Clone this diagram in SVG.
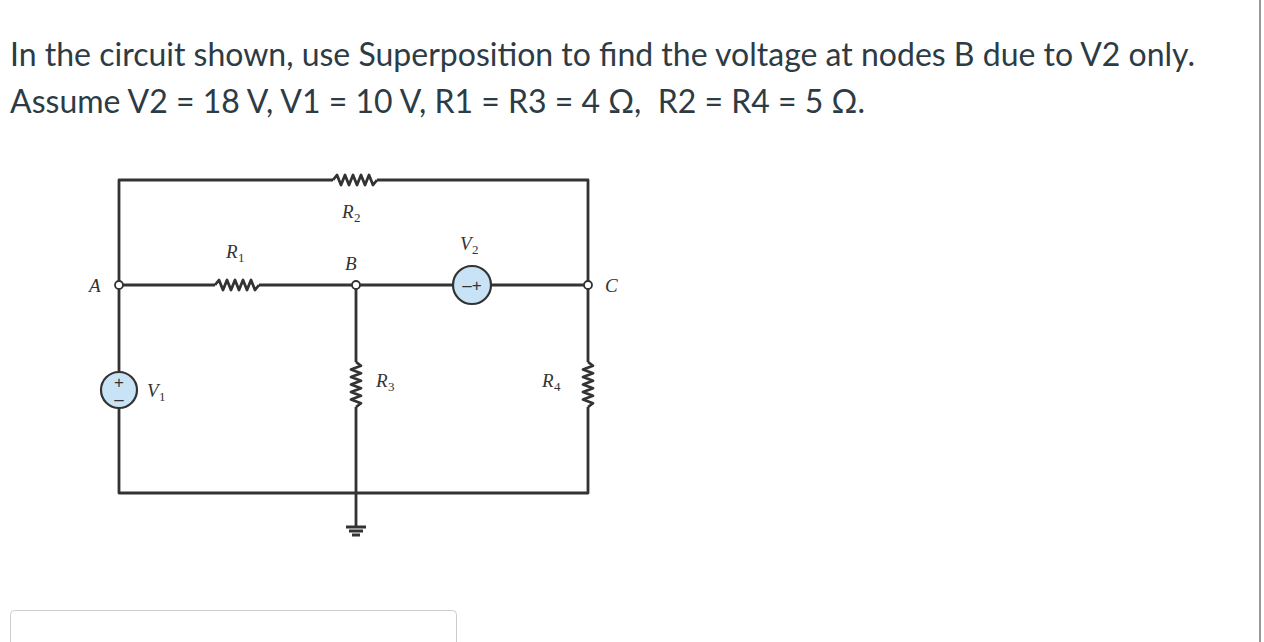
<svg xmlns="http://www.w3.org/2000/svg" width="1264" height="642" viewBox="0 0 1264 642">
<style>
.q{font-family:Lato,"Liberation Sans",sans-serif;font-size:32px;fill:#2d3b45;white-space:pre}
.w{fill:none;stroke:#333;stroke-width:2.8;stroke-linejoin:round}
.l{font-family:"Liberation Serif",serif;font-style:italic;font-size:19px;fill:#333}
.s{font-family:"Liberation Serif",serif;font-size:13px;fill:#333}
.src{fill:#c8e3f5;stroke:#333;stroke-width:2.2}
.n{fill:#fff;stroke:#333;stroke-width:1.8}
.p{font-family:"Liberation Sans",sans-serif;font-size:17px;fill:#333}
</style>
<rect width="1264" height="642" fill="#fff"/>
<line x1="1260" y1="0" x2="1260" y2="642" stroke="#999" stroke-width="2"/>
<text class="q" x="10" y="66">In the circuit shown, use Superposition to find the voltage at nodes B due to V2 only.</text>
<text class="q" x="10" y="113">Assume V2 = 18 V, V1 = 10 V, R1 = R3 = 4 Ω,  R2 = R4 = 5 Ω.</text>
<rect x="10.5" y="610.5" width="446" height="40" rx="4" fill="#fff" stroke="#c7cdd1"/>
<g id="connectors">
<path class="w" d="M333,180 H119 V372 M119,408 V493 H588 V407 M588,362 V285 V180 H377"/>
<path class="w" d="M119,285 H215 M259,285 H453 M491,285 H588"/>
<path class="w" d="M356,285 V362 M356,407 V527"/>
</g>
<g id="R2"><path class="w" d="M333,180 l4,-5 l4,10 l4,-10 l4,10 l4,-10 l4,10 l4,-10 l4,10 l4,-10 l4,10 l4,-5"/>
<text class="l" x="342" y="218">R</text><text class="s" x="354" y="222">2</text></g>
<g id="R1"><path class="w" d="M215,285 l4,-5 l4,10 l4,-10 l4,10 l4,-10 l4,10 l4,-10 l4,10 l4,-10 l4,10 l4,-5"/>
<text class="l" x="226" y="258">R</text><text class="s" x="238" y="262">1</text></g>
<g id="R3"><path class="w" d="M356,362 l5,3.75 l-10,3.75 l10,3.75 l-10,3.75 l10,3.75 l-10,3.75 l10,3.75 l-10,3.75 l10,3.75 l-10,3.75 l10,3.75 l-5,3.75"/>
<text class="l" x="376" y="387">R</text><text class="s" x="388" y="391">3</text></g>
<g id="R4"><path class="w" d="M588,362 l5,3.75 l-10,3.75 l10,3.75 l-10,3.75 l10,3.75 l-10,3.75 l10,3.75 l-10,3.75 l10,3.75 l-10,3.75 l10,3.75 l-5,3.75"/>
<text class="l" x="542" y="387">R</text><text class="s" x="554" y="391">4</text></g>
<g id="V1"><circle class="src" cx="119" cy="390" r="18"/>
<text class="p" x="119" y="388" text-anchor="middle">+</text><text class="p" x="119" y="405" text-anchor="middle">–</text>
<text class="l" x="147" y="397">V</text><text class="s" x="159" y="401">1</text></g>
<g id="V2"><circle class="src" cx="472" cy="285" r="19"/>
<text class="p" x="472" y="291" text-anchor="middle">–+</text>
<text class="l" x="460" y="250">V</text><text class="s" x="472" y="254">2</text></g>
<g id="A"><circle class="n" cx="119" cy="285" r="4"/><text class="l" x="89" y="292">A</text></g>
<g id="B"><circle class="n" cx="356" cy="285" r="4"/><text class="l" x="345" y="270">B</text></g>
<g id="C"><circle class="n" cx="588" cy="285" r="4"/><text class="l" x="605" y="292">C</text></g>
<g id="ground"><path class="w" d="M346,527 H366 M349,531 H363 M352,535 H360" stroke-width="1.8"/></g>
</svg>
